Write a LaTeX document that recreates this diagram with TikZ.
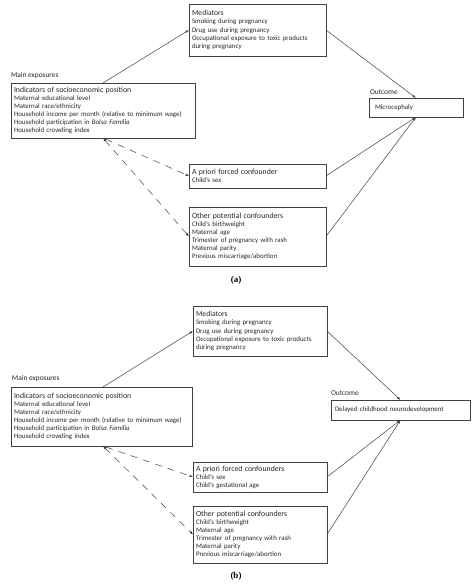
\documentclass[tikz,border=0pt]{standalone}
\usepackage{fontspec}
\setmainfont{Carlito}
\newfontfamily\panelfont{Liberation Serif}
\usetikzlibrary{arrows.meta}
\begin{document}
\begin{tikzpicture}[x=1pt,y=-1pt,inner sep=0pt,outer sep=0pt,line width=0.5pt,
varbox/.style={draw=black!75,rectangle,anchor=north west,align=left,inner sep=3pt,
  font=\fontsize{6.9}{8.1}\selectfont,text=black!85},
tag/.style={anchor=west,font=\fontsize{7.4}{8}\selectfont,text=black!85},
panel/.style={font=\panelfont\bfseries\fontsize{9}{10}\selectfont},
link/.style={draw=black!75,-{Latex[length=3.5pt,width=2.5pt]}},
assoc/.style={draw=black!75,{Latex[length=3.5pt,width=2.5pt]}-{Latex[length=3.5pt,width=2.5pt]},dash pattern=on 7pt off 6pt}]
\useasboundingbox (0,0) rectangle (474,584);
% panel (a)
\draw (189,4) node[varbox,text width=131pt,minimum height=52pt] (med_a) {{\fontsize{7.6}{8.1}\selectfont Mediators}\\Smoking during pregnancy\\Drug use during pregnancy\\Occupational exposure to toxic products\\during pregnancy};
\draw (11,83) node[varbox,text width=178pt,minimum height=55pt] (exp_a) {{\fontsize{7.8}{8.1}\selectfont Indicators of socioeconomic position}\\Maternal educational level\\Maternal race/ethnicity\\Household income per month (relative to minimum wage)\\Household participation in \textit{Bolsa Família}\\Household crowding index};
\draw (369,98) node[varbox,text width=88pt,minimum height=19pt] (out_a) {\hspace{3pt}Microcephaly};
\draw (189,164) node[varbox,text width=131pt,minimum height=24pt] (frc_a) {{\fontsize{7.8}{8.1}\selectfont A priori forced confounder}\\Child’s sex};
\draw (189,207) node[varbox,text width=131pt,minimum height=59pt] (oth_a) {{\fontsize{7.8}{8.1}\selectfont Other potential confounders}\\Child’s birthweight\\Maternal age\\Trimester of pregnancy with rash\\Maternal parity\\Previous miscarriage/abortion};
\draw (11,76) node[tag] (lexp_a) {Main exposures};
\draw (370,92) node[tag] (lout_a) {Outcome};
\draw (236,280) node[panel] (lab_a) {(a)};
\draw[link] ([xshift=92pt]exp_a.north west) -- (med_a.west);
\draw[link] (med_a.east) -- (out_a.north);
\draw[assoc] ([xshift=92pt]exp_a.south west) -- (frc_a.west);
\draw[assoc] ([xshift=92pt]exp_a.south west) -- (oth_a.west);
\draw[link] (frc_a.east) -- (out_a.south);
\draw[link] (oth_a.east) -- (out_a.south);
% panel (b)
\draw (193,306) node[varbox,text width=128pt,minimum height=50pt] (med_b) {{\fontsize{7.6}{8.1}\selectfont Mediators}\\Smoking during pregnancy\\Drug use during pregnancy\\Occupational exposure to toxic products\\during pregnancy};
\draw (11,387) node[varbox,text width=175pt,minimum height=59pt] (exp_b) {{\fontsize{7.8}{8.1}\selectfont Indicators of socioeconomic position}\\Maternal educational level\\Maternal race/ethnicity\\Household income per month (relative to minimum wage)\\Household participation in \textit{Bolsa Família}\\Household crowding index};
\draw (331,400) node[varbox,text width=133pt,minimum height=20pt] (out_b) {\hspace{1pt}Delayed childhood neurodevelopment};
\draw (193,462) node[varbox,text width=128pt,minimum height=30pt] (frc_b) {{\fontsize{7.8}{8.1}\selectfont A priori forced confounders}\\Child’s sex\\Child’s gestational age};
\draw (193,506) node[varbox,text width=128pt,minimum height=57pt] (oth_b) {{\fontsize{7.8}{8.1}\selectfont Other potential confounders}\\Child’s birthweight\\Maternal age\\Trimester of pregnancy with rash\\Maternal parity\\Previous miscarriage/abortion};
\draw (12,379) node[tag] (lexp_b) {Main exposures};
\draw (331,393) node[tag] (lout_b) {Outcome};
\draw (236,576) node[panel] (lab_b) {(b)};
\draw[link] ([xshift=92pt]exp_b.north west) -- (med_b.west);
\draw[link] (med_b.east) -- (out_b.north);
\draw[assoc] ([xshift=92pt]exp_b.south west) -- (frc_b.west);
\draw[assoc] ([xshift=92pt]exp_b.south west) -- (oth_b.west);
\draw[link] (frc_b.east) -- (out_b.south);
\draw[link] (oth_b.east) -- (out_b.south);
\end{tikzpicture}
\end{document}
